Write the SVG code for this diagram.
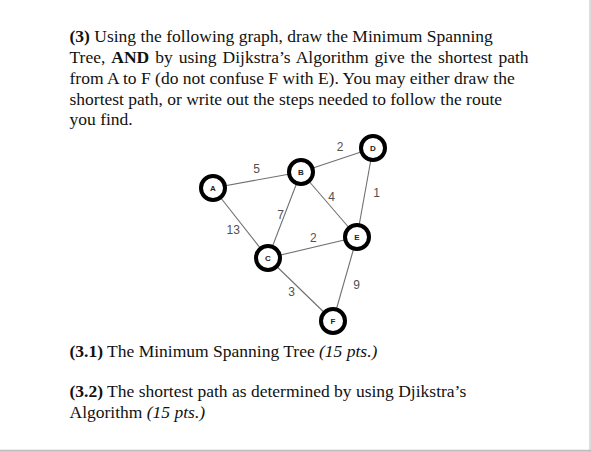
<svg xmlns="http://www.w3.org/2000/svg" width="591" height="452" viewBox="0 0 591 452">
<style>
.t{font-family:"Liberation Serif","Times New Roman",serif;font-size:17.5px;fill:#111}
.b{font-weight:bold}
.i{font-style:italic}
.e{stroke:#707070;stroke-width:1.1;fill:none}
.w{font-family:"Liberation Sans",Arial,sans-serif;font-size:12px;fill:#505050;text-anchor:middle;dominant-baseline:central}
.n{fill:#fff;stroke:#000;stroke-width:4}
.l{font-family:"Liberation Sans",Arial,sans-serif;font-size:8px;font-weight:bold;fill:#222;text-anchor:middle;dominant-baseline:central}
</style>
<rect x="0" y="0" width="591" height="452" fill="#fff"/>
<line x1="590" y1="0" x2="590" y2="452" stroke="#c8c8c8" stroke-width="1.2"/>
<line x1="0" y1="450.8" x2="591" y2="450.8" stroke="#bdbdbd" stroke-width="2"/>
<g id="question">
<text class="t" x="69.5" y="42.3"><tspan class="b">(3)</tspan> Using the following graph, draw the Minimum Spanning</text>
<text class="t" x="69.5" y="63.2" style="word-spacing:1.6px">Tree, <tspan class="b">AND</tspan> by using Dijkstra’s Algorithm give the shortest path</text>
<text class="t" x="69.5" y="84.1">from A to F (do not confuse F with E). You may either draw the</text>
<text class="t" x="69.5" y="104.8">shortest path, or write out the steps needed to follow the route</text>
<text class="t" x="69.5" y="125.4">you find.</text>
<text class="t" x="69.5" y="356.8"><tspan class="b">(3.1)</tspan> The Minimum Spanning Tree <tspan class="i">(15 pts.)</tspan></text>
<text class="t" x="69.5" y="397.2"><tspan class="b">(3.2)</tspan> The shortest path as determined by using Djikstra’s</text>
<text class="t" x="69.5" y="417.6">Algorithm <tspan class="i">(15 pts.)</tspan></text>
</g>
<g id="connectors">
<line class="e" x1="213" y1="188" x2="301" y2="172"/>
<line class="e" x1="213" y1="188" x2="268" y2="258"/>
<line class="e" x1="301" y1="172" x2="373" y2="148"/>
<line class="e" x1="301" y1="172" x2="268" y2="258"/>
<line class="e" x1="301" y1="172" x2="357" y2="237"/>
<line class="e" x1="373" y1="148" x2="357" y2="237"/>
<line class="e" x1="268" y1="258" x2="357" y2="237"/>
<line class="e" x1="268" y1="258" x2="333" y2="321"/>
<line class="e" x1="357" y1="237" x2="333" y2="321"/>
<text class="w" x="256.7" y="169.3">5</text>
<text class="w" x="340" y="146.7">2</text>
<text class="w" x="331.7" y="196.7">4</text>
<text class="w" x="376.7" y="193.3">1</text>
<text class="w" x="280.5" y="215">7</text>
<text class="w" x="233.3" y="230">13</text>
<text class="w" x="313.3" y="238.3">2</text>
<text class="w" x="356.7" y="285">9</text>
<text class="w" x="291.7" y="291.7">3</text>
</g>
<g id="node-A"><circle class="n" cx="213" cy="188" r="12"/><text class="l" x="213" y="188.5">A</text></g>
<g id="node-B"><circle class="n" cx="301" cy="172" r="12"/><text class="l" x="301" y="172.5">B</text></g>
<g id="node-D"><circle class="n" cx="373" cy="148" r="12"/><text class="l" x="373" y="148.5">D</text></g>
<g id="node-E"><circle class="n" cx="357" cy="237" r="12"/><text class="l" x="357" y="237.5">E</text></g>
<g id="node-C"><circle class="n" cx="268" cy="258" r="12"/><text class="l" x="268" y="258.5">C</text></g>
<g id="node-F"><circle class="n" cx="333" cy="321" r="12"/><text class="l" x="333" y="321.5">F</text></g>
</svg>
